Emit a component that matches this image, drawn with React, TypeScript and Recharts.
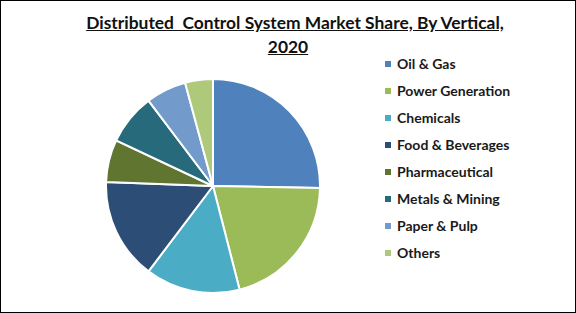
import React from 'react';
import { PieChart, Pie, Cell, Legend } from 'recharts';

const VERTICALS = ['Oil & Gas', 'Power Generation', 'Chemicals', 'Food & Beverages', 'Pharmaceutical', 'Metals & Mining', 'Paper & Pulp', 'Others'];
const SHARES = [25.3, 20.7, 14.3, 15.3, 6.4, 7.7, 6.1, 4.2];
const COLORS = ['#4F81BD', '#9BBB59', '#4BACC6', '#2C4D75', '#5F7530', '#276A7C', '#729ACA', '#AFC97A'];

const TITLE_LINE1 = 'Distributed\u00a0 Control System Market Share, By Vertical,';
const TITLE_LINE2 = '2020';

const data = VERTICALS.map((name, i) => ({ name, value: SHARES[i] }));

const FONT = 'Lato, "Open Sans", sans-serif';

const renderLegend = () => (
    <div style={{ fontFamily: FONT }}>
        {VERTICALS.map((name, i) => (
            <div key={name} style={{ display: 'flex', alignItems: 'center', height: 27 }}>
                <span style={{ width: 6, height: 6, background: COLORS[i], marginRight: 6, display: 'inline-block' }} />
                <span style={{ fontSize: 14, fontWeight: 700, color: '#1a1a1a', whiteSpace: 'nowrap' }}>{name}</span>
            </div>
        ))}
    </div>
);

const titleStyle: React.CSSProperties = {
    position: 'absolute',
    fontFamily: FONT,
    fontWeight: 700,
    fontSize: 17.4,
    color: '#111',
    textDecoration: 'underline',
    whiteSpace: 'nowrap',
    transform: 'translateX(-50%)',
    lineHeight: '22px',
};

export default function App() {
    return (
        <div style={{ position: 'absolute', left: 0, top: 0, width: 576, height: 313, boxSizing: 'border-box', border: '1px solid #000', background: '#fff' }}>
            <div style={{ ...titleStyle, left: 294, top: 11 }}>{TITLE_LINE1}</div>
            <div style={{ ...titleStyle, left: 287, top: 35 }}>{TITLE_LINE2}</div>
            <PieChart width={574} height={311}>
                <Legend
                    content={renderLegend}
                    layout="vertical"
                    verticalAlign="top"
                    align="right"
                    wrapperStyle={{ left: 384, top: 49, width: 190 }}
                />
                <Pie
                    data={data}
                    dataKey="value"
                    nameKey="name"
                    cx={207}
                    cy={180}
                    outerRadius={107}
                    startAngle={90}
                    endAngle={-270}
                    stroke="#fff"
                    strokeWidth={2}
                    isAnimationActive={false}
                >
                    {data.map((entry, index) => (
                        <Cell key={`cell-${index}`} fill={COLORS[index]} />
                    ))}
                </Pie>
            </PieChart>
        </div>
    );
}
